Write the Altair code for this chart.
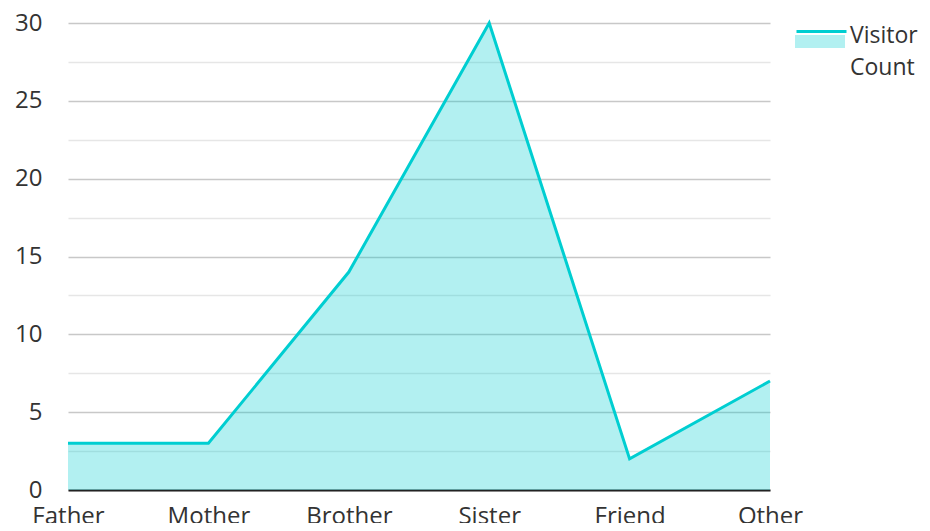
import altair as alt
import pandas as pd

categories = ["Father", "Mother", "Brother", "Sister", "Friend", "Other"]
values = [3, 3, 14, 30, 2, 7]
series_name = "Visitor Count"

df = pd.DataFrame({"category": categories, "value": values, "series": [series_name] * len(categories)})

COLOR = "#00CED1"
FONT = "Open Sans"
TEXT = "#333333"
FS = 24

x_enc = alt.X(
    "category:N",
    sort=categories,
    scale=alt.Scale(type="point", padding=0),
    axis=alt.Axis(
        title=None, labelAngle=0, ticks=False, domain=True, domainColor="#222222",
        domainWidth=2, labelPadding=14, labelFontSize=FS, labelFont=FONT,
        labelColor=TEXT, grid=False,
    ),
)
y_enc = alt.Y(
    "value:Q",
    scale=alt.Scale(domain=[0, 30], nice=False),
    axis=alt.Axis(
        title=None, values=[i * 2.5 for i in range(13)], domain=False, ticks=False,
        labelPadding=26, labelFontSize=FS, labelFont=FONT, labelColor=TEXT,
        labelExpr="datum.value % 5 === 0 ? datum.label : ''",
        grid=True,
        gridColor={"condition": {"test": "datum.value % 5 === 0", "value": "#c8c8c8"}, "value": "#e6e6e6"},
        gridWidth=1.5,
    ),
)

base = alt.Chart(df).encode(x=x_enc, y=y_enc)

area = base.mark_area(opacity=0.3).encode(
    fill=alt.Fill(
        "series:N",
        scale=alt.Scale(range=[COLOR]),
        legend=alt.Legend(
            orient="none", legendX=727, legendY=2, padding=0,
            symbolType="M-1,-0.6H1V-0.08H-1Z", symbolSize=2500, symbolOpacity=0.3,
            symbolStrokeWidth=0, labelExpr="''", labelOffset=0,
            title=["Visitor", "Count"], titleOrient="right", titleLineHeight=32,
            titleFontSize=23, titleFont=FONT, titleFontWeight="normal",
            titleColor=TEXT, titlePadding=5, titleAnchor="start", titleBaseline="top",
        ),
    )
)

line = base.mark_line(strokeWidth=3).encode(
    stroke=alt.Stroke(
        "series:N",
        scale=alt.Scale(range=[COLOR]),
        legend=alt.Legend(
            orient="none", legendX=727, legendY=-18, padding=0,
            symbolType="M-1,0H1", symbolSize=2500, symbolStrokeWidth=3,
            labelExpr="''", labelOffset=0, title=None,
        ),
    )
)

chart = (
    alt.layer(area, line)
    .resolve_scale(fill="independent", stroke="independent")
    .properties(
        width=702, height=467,
        autosize=alt.AutoSizeParams(type="none"),
        padding={"left": 60, "top": 15, "right": 152, "bottom": 33},
    )
    .configure(font=FONT)
    .configure_view(stroke=None)
)

chart.save("out.html", embed_options={"renderer": "svg", "actions": False})
